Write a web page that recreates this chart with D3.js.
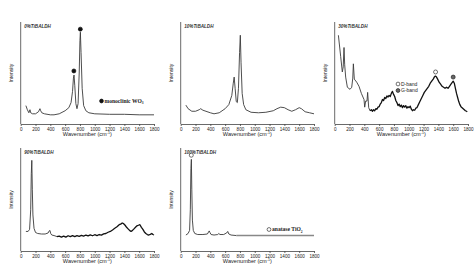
<!DOCTYPE html>
<html>
<head>
<meta charset="utf-8">
<script src="https://cdn.jsdelivr.net/npm/d3@7"></script>
<style>
  body { margin: 0; background: #fff; }
  svg { display: block; }
  .tick text { font-family: "Liberation Sans", Arial, sans-serif; }
</style>
</head>
<body>
<div id="chart"></div>
<script>
// 各样品的拉曼光谱数据 (波数 / 相对强度)
const xTicks = [0, 200, 400, 600, 800, 1000, 1200, 1400, 1600, 1800];
const panelNames = ['0%TiBALDH', '10%TiBALDH', '30%TiBALDH', '90%TiBALDH', '100%TiBALDH'];

const wn0 = [70, 90, 110, 125, 135, 160, 200, 240, 260, 270, 285, 320, 400, 450, 520, 600, 650, 680, 700, 712, 720, 730, 745, 760, 775, 790, 800, 806, 815, 830, 850, 880, 920, 1000, 1200, 1400, 1600, 1800];
const int0 = [18, 14, 11, 14, 11, 10, 10, 12, 15, 13, 11, 10, 9, 9, 10, 13, 16, 21, 32, 45, 48, 38, 20, 15, 20, 50, 82, 90, 70, 35, 18, 13, 11, 10, 9.5, 9.5, 9, 9];

const wn1 = [70, 100, 150, 200, 250, 270, 300, 400, 450, 520, 600, 650, 690, 710, 722, 735, 750, 765, 780, 795, 805, 815, 830, 850, 880, 950, 1050, 1150, 1250, 1300, 1350, 1400, 1450, 1500, 1550, 1600, 1630, 1680, 1740, 1800];
const int1 = [18.5, 15, 12.5, 12.5, 14, 15, 13.5, 11, 10, 11, 15, 19, 28, 40, 46, 35, 22, 21, 35, 70, 87, 60, 30, 19, 14, 11.5, 11, 11.5, 13, 15, 16.5, 16, 14, 12.5, 14, 16, 15, 12, 11, 10];

const wn2 = [50, 81, 103, 115, 126, 135, 148, 171, 207, 230, 244, 252, 265, 297, 328, 360, 396, 405, 418, 436, 445, 459, 477,
  495, 510, 525, 540, 555, 570, 585, 600, 615, 630, 645, 660, 675, 690, 705, 720, 735, 750, 765, 780, 795, 810, 825, 840, 855, 870, 885, 900, 915, 930, 945, 960, 975, 990, 1005, 1020, 1035, 1050, 1065, 1080, 1095, 1110, 1130, 1150, 1170, 1190, 1210, 1230, 1250, 1270, 1290, 1310, 1330, 1345, 1360, 1375, 1390, 1410, 1430, 1450, 1470, 1490, 1510, 1530, 1550, 1570, 1590, 1600, 1615, 1630, 1645, 1660, 1675, 1690, 1705, 1720, 1735, 1750, 1765, 1780, 1790];
const int2 = [87, 66, 51, 56, 75, 58, 46, 36, 34, 36, 45, 59, 44, 41, 37, 30, 24, 16.5, 22.5, 22.5, 31, 16, 13,
  14, 12.5, 14, 13, 15, 14.5, 16.5, 17, 19.5, 21, 24, 23, 26, 25, 27.5, 26.5, 28, 27, 30, 32, 29, 27, 23, 21, 18, 19.5, 17, 18.5, 16, 18, 16.5, 18, 15.5, 17, 16, 17.5, 14.5, 13, 14, 13.5, 15.5, 16, 19, 22, 25, 28, 31, 33, 35, 37, 40, 42, 44, 46, 47, 46, 44, 41, 39, 37, 36, 35, 36, 35, 37, 39, 41, 42, 40, 35, 30, 26, 22, 19, 17, 16, 15, 14, 13, 12.5, 12];

const wn3 = [70, 100, 120, 135, 143, 150, 157, 165, 180, 200, 230, 280, 330, 370, 385, 395, 405, 420, 450, 490,
  520, 550, 580, 610, 640, 670, 700, 730, 760, 790, 820, 850, 880, 910, 940, 970, 1000, 1030, 1060, 1090, 1120, 1150, 1180, 1210, 1240, 1270, 1300, 1330, 1350, 1370, 1390, 1410, 1430, 1450, 1470, 1490, 1510, 1530, 1550, 1570, 1590, 1610, 1630, 1650, 1670, 1690, 1710, 1730, 1750, 1770, 1785, 1800];
const int3 = [19, 19, 21, 40, 75, 88, 60, 35, 22, 18, 17, 16.5, 16.5, 17.5, 19.5, 20, 17, 15.5, 15, 14,
  14.5, 13.5, 14.5, 13.5, 14.8, 14, 15, 14, 15, 14.2, 15.2, 14.5, 15.5, 14.6, 15.6, 14.8, 15.8, 15, 16, 15.4, 16.6, 17, 18.2, 19, 20.4, 22, 23.5, 25.5, 26, 27.2, 26.5, 25, 23, 21.5, 20, 19, 20, 21.5, 23, 24.5, 25, 25.5, 23, 21, 18.5, 17, 16, 15.5, 16.2, 17, 16, 15.5];

const wn4 = [70, 100, 120, 130, 138, 144, 150, 158, 170, 190, 230, 300, 360, 385, 395, 410, 450, 500, 515, 530, 580, 620, 635, 650, 680, 750, 900, 1200, 1500, 1800];
const int4 = [15.5, 17, 20, 40, 80, 89, 60, 30, 20, 17, 16, 16, 16.5, 19.5, 18, 16, 15.5, 16, 17, 16, 16, 17.5, 19, 16.5, 15.5, 15, 15, 15, 15, 15];

// 峰位标记 (波数, 强度)
const woPeaks = [[718, 52], [805, 93]];
const dBand = [[1362, 51]];
const gBand = [[1600, 46]];
const tiPeaks = [[143, 93]];

// 面板布局; split: 从该波数起换一种线型
const panels = [
  { name: panelNames[0], wn: wn0, val: int0, left: 20.7, top: 22, bottom: 124, split: 9999 },
  { name: panelNames[1], wn: wn1, val: int1, left: 180.7, top: 22, bottom: 124, split: 9999 },
  { name: panelNames[2], wn: wn2, val: int2, left: 334.7, top: 22, bottom: 124, split: 477, color2: '#111', width2: 1.3 },
  { name: panelNames[3], wn: wn3, val: int3, left: 20.7, top: 148, bottom: 251, split: 490, color2: '#111', width2: 1.3 },
  { name: panelNames[4], wn: wn4, val: int4, left: 180.7, top: 148, bottom: 251, split: 750, color2: '#888', width2: 1.4 }
];
const panelWidth = 133.3;

const svg = d3.select('#chart')
  .append('svg')
  .attr('width', 474)
  .attr('height', 271);

panels.forEach((p, idx) => {
  const x = d3.scaleLinear().domain([0, 1800]).range([p.left, p.left + panelWidth]);
  const y = d3.scaleLinear().domain([0, 100]).range([p.bottom, p.top]);
  p.x = x;
  p.y = y;

  // x 轴
  const xAxis = svg.append('g')
    .attr('transform', `translate(0,${p.bottom})`)
    .call(d3.axisBottom(x).tickValues(xTicks).tickFormat(d3.format('d'))
      .tickSize(2).tickSizeOuter(0).tickPadding(1.5));
  xAxis.selectAll('text').attr('font-size', '4.6px').attr('fill', '#222');
  xAxis.selectAll('line, path').attr('stroke', '#444').attr('stroke-width', 0.8);

  // y 轴 (无刻度)
  svg.append('line')
    .attr('x1', p.left).attr('x2', p.left)
    .attr('y1', p.top).attr('y2', p.bottom)
    .attr('stroke', '#444')
    .attr('stroke-width', 0.8);

  svg.append('text')
    .attr('x', (p.left + p.left + panelWidth) / 2)
    .attr('y', p.bottom + 12)
    .attr('text-anchor', 'middle')
    .attr('font-family', '"Liberation Sans", Arial, sans-serif')
    .attr('font-size', '5.6px')
    .attr('fill', '#222')
    .html('Wavenumber (cm<tspan dy="-2" font-size="3.6px">-1</tspan><tspan dy="2">)</tspan>');

  svg.append('text')
    .attr('transform', `translate(${p.left - 8},${(p.top + p.bottom) / 2}) rotate(-90)`)
    .attr('text-anchor', 'middle')
    .attr('font-family', '"Liberation Sans", Arial, sans-serif')
    .attr('font-size', '5px')
    .attr('fill', '#222')
    .text('Intensity');

  svg.append('text')
    .attr('x', p.left + 3.5)
    .attr('y', p.top + 6)
    .attr('font-family', '"Liberation Sans", Arial, sans-serif')
    .attr('font-size', '4.6px')
    .attr('font-style', 'italic')
    .attr('font-weight', 'bold')
    .attr('fill', '#333')
    .text(p.name);

  // 光谱曲线 (分两段绘制)
  const pts = p.wn.map((w, i) => [w, p.val[i]]);
  const seg1 = pts.filter(d => d[0] <= p.split);
  const seg2 = pts.filter((d, i) => d[0] >= p.split || (i + 1 < pts.length && pts[i + 1][0] > p.split && d[0] <= p.split));
  const line = d3.line()
    .x(d => x(d[0]))
    .y(d => y(d[1]));

  svg.append('path')
    .datum(seg1)
    .attr('d', line)
    .attr('fill', 'none')
    .attr('stroke', '#3a3a3a')
    .attr('stroke-width', 0.9)
    .attr('stroke-linejoin', 'round');

  if (seg2.length > 1) {
    svg.append('path')
      .datum(seg2)
      .attr('d', line)
      .attr('fill', 'none')
      .attr('stroke', p.color2)
      .attr('stroke-width', p.width2)
      .attr('stroke-linejoin', 'round');
  }
});

// 标记
function drawMarks(p, data, fill, stroke) {
  svg.selectAll(null)
    .data(data)
    .enter()
    .append('circle')
    .attr('cx', d => p.x(d[0]))
    .attr('cy', d => p.y(d[1]))
    .attr('r', 2)
    .attr('fill', fill)
    .attr('stroke', stroke)
    .attr('stroke-width', 0.7);
}
drawMarks(panels[0], woPeaks, '#111', '#111');
drawMarks(panels[2], dBand, '#fff', '#333');
drawMarks(panels[2], gBand, '#666', '#222');
drawMarks(panels[4], tiPeaks, '#fff', '#333');

// 图例
function legend(cx, cy, fill, stroke, label, serif, sub) {
  svg.append('circle')
    .attr('cx', cx).attr('cy', cy).attr('r', 1.9)
    .attr('fill', fill).attr('stroke', stroke).attr('stroke-width', 0.7);
  const t = svg.append('text')
    .attr('x', cx + 3)
    .attr('y', cy + 1.8)
    .attr('font-family', serif ? '"Liberation Serif", "Times New Roman", serif' : '"Liberation Sans", Arial, sans-serif')
    .attr('font-size', serif ? '5.6px' : '5px')
    .attr('font-weight', serif ? 'bold' : 'normal')
    .attr('fill', '#222')
    .text(label);
  if (sub) {
    t.append('tspan').attr('dy', 1.2).attr('font-size', '3.6px').text(sub);
  }
}
legend(101.5, 101, '#111', '#111', 'monoclinic WO', true, '3');
legend(398, 84, '#fff', '#333', 'D-band', false);
legend(398, 90.5, '#666', '#222', 'G-band', false);
legend(269, 229.5, '#fff', '#333', 'anatase TiO', true, '2');
</script>
</body>
</html>
